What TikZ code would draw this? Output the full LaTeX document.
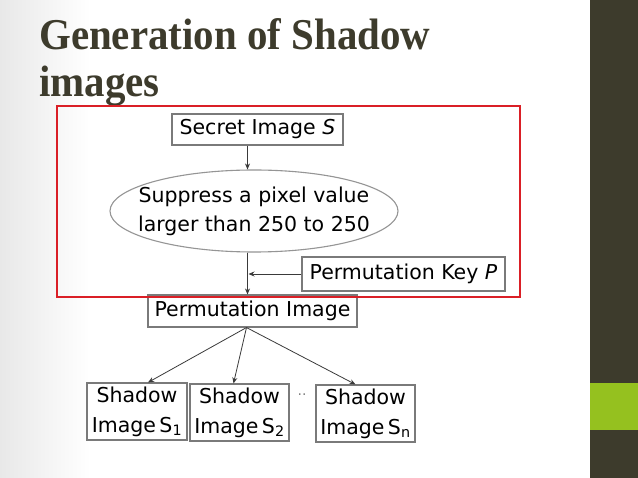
\documentclass[tikz,border=0pt]{standalone}
\usepackage{fontspec}
\setmainfont{DejaVu Sans}
\newfontfamily\titlefont[FakeStretch=0.93]{Liberation Serif}
\usetikzlibrary{shapes.geometric,arrows.meta,calc}
\definecolor{darkolive}{HTML}{3D3B2C}
\definecolor{limegreen}{HTML}{95C11F}
\definecolor{framered}{HTML}{DA1F26}
\definecolor{boxgray}{HTML}{7A7A7A}
\definecolor{linegray}{HTML}{3A3A3A}
\tikzset{
  flowbox/.style={draw=boxgray, line width=1.1pt, fill=white, inner sep=0pt, align=center,
    font=\fontsize{20.5}{25}\selectfont, text=black},
  flowarrow/.style={draw=linegray, line width=0.8pt, -{Stealth[length=6pt,width=5pt]}},
  titletext/.style={anchor=base west, inner sep=0pt, text=darkolive, font=\titlefont\bfseries\fontsize{44}{48}\selectfont},
}
\begin{document}
\begin{tikzpicture}[x=1pt,y=-1pt]
\useasboundingbox (0,0) rectangle (638,478);
\fill[white] (0,0) rectangle (638,478);
\shade[left color=black!9, right color=white] (0,0) rectangle (90,478);
\fill[white] (88,108) rectangle (510,445);
% right bar
\fill[darkolive] (590,0) rectangle (638,478);
\fill[limegreen] (590,383) rectangle (638,430);
% title
\node[titletext] (t1) at (39,50) {Generation of Shadow};
\node[titletext] (t2) at (39,97) {images};
% nodes
\node[flowbox, minimum width=171pt, minimum height=31pt] (secret) at (257.5,129.5) {Secret Image \textit{S}};
\node[flowbox, ellipse, draw=boxgray!80, minimum width=288pt, minimum height=82pt] (supp) at (254,211) {};
\node[align=center, inner sep=0pt, font=\fontsize{20.5}{29}\selectfont] (supptext) at (supp.center) {Suppress a pixel value\\larger than 250 to 250};
\node[flowbox, minimum width=203pt, minimum height=34pt] (key) at (403.5,274) {Permutation Key \textit{P}};
\node[flowbox, minimum width=209pt, minimum height=32pt] (perm) at (252.5,311) {Permutation Image};
\node[flowbox, minimum width=100pt, minimum height=57pt, font=\fontsize{20.5}{30}\selectfont] (s1) at (137,411.5) {Shadow\\Image\,S\textsubscript{1}};
\node[flowbox, minimum width=99pt, minimum height=57pt, font=\fontsize{20.5}{30}\selectfont] (s2) at (239.5,412.5) {Shadow\\Image\,S\textsubscript{2}};
\node[flowbox, minimum width=99pt, minimum height=57pt, font=\fontsize{20.5}{30}\selectfont] (sn) at (365.5,413.5) {Shadow\\Image\,S\textsubscript{n}};
\node[text=gray, font=\fontsize{14}{14}\selectfont, inner sep=0pt] (dots) at (302,395) {..};
% red frame
\node[draw=framered, line width=2pt, minimum width=463pt, minimum height=191pt, inner sep=0pt] (frame) at (288.5,201.5) {};
% connectors
\coordinate (stem) at (247.5,0);
\draw[flowarrow] (secret.south -| stem) -- (supp.north -| stem);
\draw[flowarrow] (supp.south -| stem) -- (perm.north -| stem);
\draw[flowarrow] (key.west) -- ($(key.west -| stem)+(1,0)$);
\coordinate (fan) at ($(perm.south)+(-6,0)$);
\draw[flowarrow] (fan) -- ($(s1.north)+(11,0)$);
\draw[flowarrow] (fan) -- ($(s2.north)+(-6,0)$);
\draw[flowarrow] (fan) -- ($(sn.north)+(-10,0)$);
\end{tikzpicture}
\end{document}
